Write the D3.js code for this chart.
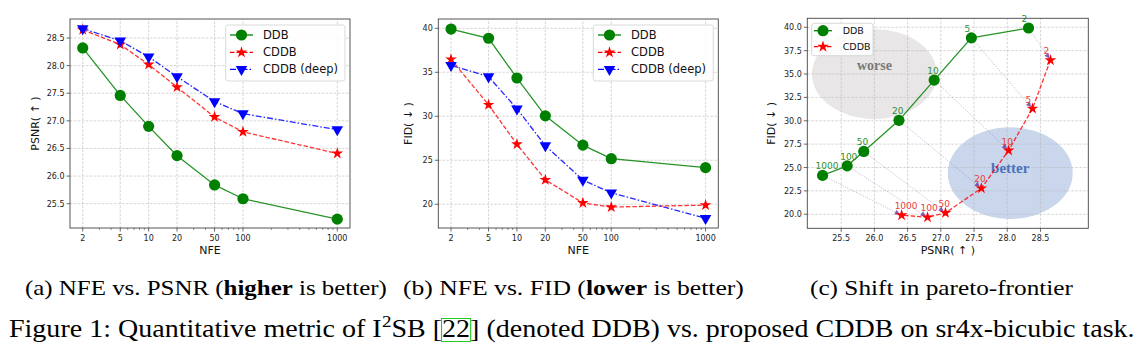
<!DOCTYPE html>
<html><head><meta charset="utf-8">
<script src="https://cdn.jsdelivr.net/npm/d3@7"></script>
<style>
html,body{margin:0;padding:0;background:#fff;}
svg{display:block;}
</style></head>
<body>
<svg id="c" width="1142" height="355"></svg>
<script>
// ---------------- DATA ----------------
const nfe = [2, 5, 10, 20, 50, 100, 1000];
const psnrDDB  = [28.32, 27.46, 26.90, 26.37, 25.84, 25.59, 25.22];
const psnrCDDB = [28.65, 28.38, 28.02, 27.61, 27.07, 26.80, 26.41];
const psnrDeep = [28.67, 28.45, 28.16, 27.80, 27.35, 27.13, 26.84];
const fidDDB   = [39.92, 38.87, 34.35, 30.05, 26.72, 25.18, 24.16];
const fidCDDB  = [36.48, 31.30, 26.82, 22.78, 20.15, 19.68, 19.90];
const fidDeep  = [35.80, 34.50, 30.86, 26.66, 22.76, 21.30, 18.41];
const yTicksA = [25.5, 26.0, 26.5, 27.0, 27.5, 28.0, 28.5];
const yTicksB = [20, 25, 30, 35, 40];
const xTicksC = [25.5, 26.0, 26.5, 27.0, 27.5, 28.0, 28.5];
const yTicksC = [20.0, 22.5, 25.0, 27.5, 30.0, 32.5, 35.0, 37.5, 40.0];
const seriesNames = ["DDB", "CDDB", "CDDB (deep)"];
// annotation ellipses in panel c (data coords: cx, cy, half-width, half-height)
const ellipseWorse  = [26.0, 35.0, 0.94, 4.8];
const ellipseBetter = [28.045, 24.4, 0.94, 4.9];

// ---------------- STYLE ----------------
const svg = d3.select("#c");
const FONT = "'DejaVu Sans', sans-serif";
const colG = "#008000", colR = "#ff0000", colB = "#0000ff";
const styles = [
  {color: colG, dash: null,          sym: "circle"},
  {color: colR, dash: "4.5,2",       sym: "star"},
  {color: colB, dash: "6,2,1.5,2",   sym: "tri"}
];
function marker(g, type, x, y, color) {
  if (type === "circle") {
    g.append("circle").attr("cx", x).attr("cy", y).attr("r", 5.6).attr("fill", color);
  } else if (type === "star") {
    g.append("path").attr("d", d3.symbol(d3.symbolStar, 42)())
      .attr("transform", `translate(${x},${y})`).attr("fill", color);
  } else {
    g.append("path").attr("d", d3.symbol(d3.symbolTriangle, 58)())
      .attr("transform", `translate(${x},${y}) rotate(180)`).attr("fill", color);
  }
}

function frameAxes(g, x, y, xTicks, yTicks) {
  const [x0, x1] = x.range(), [y0, y1] = y.range();
  const grid = g.append("g").attr("stroke", "#b8b8b8").attr("stroke-width", 0.6)
    .attr("stroke-dasharray", "2.5,1.5");
  xTicks.forEach(t => grid.append("line").attr("x1", x(t)).attr("x2", x(t)).attr("y1", y0).attr("y2", y1));
  yTicks.forEach(t => grid.append("line").attr("y1", y(t)).attr("y2", y(t)).attr("x1", x0).attr("x2", x1));
}
function drawAxes(g, x, y, xTicks, yTicks, xFmt, yFmt, minor) {
  const [x0, x1] = x.range(), [y0, y1] = y.range();
  g.append("rect").attr("x", x0).attr("y", y1).attr("width", x1 - x0).attr("height", y0 - y1)
    .attr("fill", "none").attr("stroke", "#444").attr("stroke-width", 0.9);
  const tk = g.append("g").attr("stroke", "#444").attr("stroke-width", 0.8);
  xTicks.forEach(t => tk.append("line").attr("x1", x(t)).attr("x2", x(t)).attr("y1", y0).attr("y2", y0 + 3.5));
  yTicks.forEach(t => tk.append("line").attr("y1", y(t)).attr("y2", y(t)).attr("x1", x0).attr("x2", x0 - 3.5));
  (minor || []).forEach(t => tk.append("line").attr("x1", x(t)).attr("x2", x(t)).attr("y1", y0).attr("y2", y0 + 2).attr("stroke-width", 0.6));
  const lab = g.append("g").attr("font-family", FONT).attr("font-size", 8).attr("fill", "#222");
  xTicks.forEach(t => lab.append("text").attr("x", x(t)).attr("y", y0 + 12.5).attr("text-anchor", "middle").text(xFmt(t)));
  yTicks.forEach(t => lab.append("text").attr("x", x0 - 5.5).attr("y", y(t) + 3).attr("text-anchor", "end").text(yFmt(t)));
}
function axisLabels(g, x, y, xl, yl, ylx) {
  const [x0, x1] = x.range(), [y0, y1] = y.range();
  g.append("text").attr("x", (x0 + x1) / 2).attr("y", 253.5).attr("text-anchor", "middle")
    .attr("font-family", FONT).attr("font-size", 11).attr("fill", "#111").text(xl);
  g.append("text").attr("transform", `translate(${ylx},${(y0 + y1) / 2}) rotate(-90)`)
    .attr("text-anchor", "middle").attr("font-family", FONT).attr("font-size", 11).attr("fill", "#111").text(yl);
}
function legend(g, bx, by, bw, bh, entries, lx0, lx1, tx, ys, fs) {
  g.append("rect").attr("x", bx).attr("y", by).attr("width", bw).attr("height", bh).attr("rx", 2.5)
    .attr("fill", "#fff").attr("fill-opacity", 0.85).attr("stroke", "#cfcfcf").attr("stroke-width", 0.8);
  entries.forEach((e, i) => {
    const st = styles[e];
    g.append("line").attr("x1", lx0).attr("x2", lx1).attr("y1", ys[i]).attr("y2", ys[i])
      .attr("stroke", st.color).attr("stroke-width", 1.3).attr("stroke-dasharray", st.dash);
    marker(g, st.sym, (lx0 + lx1) / 2, ys[i], st.color);
    g.append("text").attr("x", tx).attr("y", ys[i] + fs * 0.36).attr("font-family", FONT)
      .attr("font-size", fs).attr("fill", "#111").text(seriesNames[e]);
  });
}
function series(g, x, y, xs, ys, idx, alpha) {
  const st = styles[idx];
  const pts = xs.map((v, i) => [x(v), y(ys[i])]);
  g.append("path").attr("d", d3.line()(pts)).attr("fill", "none").attr("stroke", st.color)
    .attr("stroke-width", 1.3).attr("stroke-opacity", alpha).attr("stroke-dasharray", st.dash);
  pts.forEach(p => marker(g, st.sym, p[0], p[1], st.color));
}

// ---------------- PANEL A ----------------
const pad = Math.pow(10, 0.135);
const xA = d3.scaleLog().domain([2 / pad, 1000 * pad]).range([70, 350]);
const yA = d3.scaleLinear().domain([25.06, 28.844]).range([228, 19]);
const minorA = xA.ticks().filter(t => !nfe.includes(t) && t > 2);
const gA = svg.append("g");
frameAxes(gA, xA, yA, nfe, yTicksA);
series(gA, xA, yA, nfe, psnrDDB, 0, 0.85);
series(gA, xA, yA, nfe, psnrCDDB, 1, 0.8);
series(gA, xA, yA, nfe, psnrDeep, 2, 0.85);
drawAxes(gA, xA, yA, nfe, yTicksA, d3.format("d"), d3.format(".1f"), minorA);
axisLabels(gA, xA, yA, "NFE", "PSNR( \u2191 )", 39);
legend(gA, 225.7, 25, 119.3, 56, [0, 1, 2], 230, 253, 263, [35, 52.3, 69.3], 11.5);

// ---------------- PANEL B ----------------
const xB = d3.scaleLog().domain([2 / pad, 1000 * pad]).range([438.3, 718.3]);
const yB = d3.scaleLinear().domain([17.3, 41.06]).range([228, 19]);
const gB = svg.append("g");
frameAxes(gB, xB, yB, nfe, yTicksB);
series(gB, xB, yB, nfe, fidDDB, 0, 0.85);
series(gB, xB, yB, nfe, fidCDDB, 1, 0.8);
series(gB, xB, yB, nfe, fidDeep, 2, 0.85);
drawAxes(gB, xB, yB, nfe, yTicksB, d3.format("d"), d3.format("d"), minorA);
axisLabels(gB, xB, yB, "NFE", "FID( \u2193 )", 411.7);
legend(gB, 593.3, 25, 120, 56, [0, 1, 2], 598, 621, 631, [35, 52.3, 69.3], 11.5);

// ---------------- PANEL C ----------------
const xC = d3.scaleLinear().domain([24.99, 29.22]).range([807.3, 1088.3]);
const yC = d3.scaleLinear().domain([18.5, 40.96]).range([228.3, 18.3]);
const gC = svg.append("g");
function ell(e, fill) {
  gC.append("ellipse").attr("cx", xC(e[0])).attr("cy", yC(e[1]))
    .attr("rx", xC(e[0] + e[2]) - xC(e[0])).attr("ry", yC(e[1]) - yC(e[1] + e[3])).attr("fill", fill);
}
ell(ellipseWorse, "#e8e6e6");
ell(ellipseBetter, "#c9d6ec");
frameAxes(gC, xC, yC, xTicksC, yTicksC);
gC.append("text").attr("x", xC(ellipseWorse[0])).attr("y", yC(ellipseWorse[1]) - 4)
  .attr("text-anchor", "middle").attr("font-family", "'Liberation Serif', serif").attr("font-weight", "bold")
  .attr("font-size", 14).attr("fill", "#7a7a7a").text("worse");
gC.append("text").attr("x", xC(ellipseBetter[0])).attr("y", yC(ellipseBetter[1]) + 0)
  .attr("text-anchor", "middle").attr("font-family", "'Liberation Serif', serif").attr("font-weight", "bold")
  .attr("font-size", 15).attr("fill", "#4e72b8").text("better");
// dotted arrows DDB -> CDDB
const arr = gC.append("g");
nfe.forEach((n, i) => {
  const ax = xC(psnrDDB[i]), ay = yC(fidDDB[i]);
  const bx = xC(psnrCDDB[i]), by = yC(fidCDDB[i]);
  const dx = bx - ax, dy = by - ay, L = Math.hypot(dx, dy), ux = dx / L, uy = dy / L;
  const ex = bx - ux * 2, ey = by - uy * 2;
  arr.append("line").attr("x1", ax).attr("y1", ay).attr("x2", ex - ux * 4).attr("y2", ey - uy * 4)
    .attr("stroke", "#7d6fa8").attr("stroke-opacity", 0.75).attr("stroke-width", 0.7).attr("stroke-dasharray", "1,1.5");
  const hx = ex - ux * 5, hy = ey - uy * 5, px = -uy * 2.6, py = ux * 2.6;
  arr.append("path").attr("d", `M${ex},${ey}L${hx + px},${hy + py}L${hx - px},${hy - py}Z`)
    .attr("fill", "#6a3fa6").attr("fill-opacity", 0.85);
});
series(gC, xC, yC, psnrDDB, fidDDB, 0, 0.85);
series(gC, xC, yC, psnrCDDB, fidCDDB, 1, 0.8);
const ann = gC.append("g").attr("font-family", FONT).attr("font-size", 9);
nfe.forEach((n, i) => {
  ann.append("text").attr("x", xC(psnrDDB[i]) - 7).attr("y", yC(fidDDB[i]) - 6).attr("fill", "#2f8f2f").text(n);
  ann.append("text").attr("x", xC(psnrCDDB[i]) - 7).attr("y", yC(fidCDDB[i]) - 6).attr("fill", "#e8403c").text(n);
});
drawAxes(gC, xC, yC, xTicksC, yTicksC, d3.format(".1f"), d3.format(".1f"));
axisLabels(gC, xC, yC, "PSNR( \u2191 )", "FID( \u2193 )", 774.5);
legend(gC, 811.7, 23.3, 61.3, 32.4, [0, 1], 814, 832, 842.7, [30.7, 46.7], 9.5);

// ---------------- CAPTIONS ----------------
const SERIF = "'Liberation Serif', 'Times New Roman', serif";
function caption(parts, x0, x1, base, fs) {
  const g = svg.append("g");
  const t = g.append("text").attr("x", 0).attr("y", 0).attr("font-family", SERIF).attr("font-size", fs).attr("fill", "#000");
  parts.forEach(p => t.append("tspan").attr("font-weight", p[1] ? "bold" : "normal").text(p[0]));
  const w = t.node().getComputedTextLength();
  g.attr("transform", `translate(${x0},${base}) scale(${(x1 - x0) / w},1)`);
}
caption([["(a) NFE vs. PSNR ("], ["higher", 1], [" is better)"]], 25, 387, 295, 21);
caption([["(b) NFE vs. FID ("], ["lower", 1], [" is better)"]], 403, 744, 295, 21);
caption([["(c) Shift in pareto-frontier"]], 810, 1073, 295, 21);

// line 2 with superscript and boxed citation
(function () {
  const fs = 25.5;
  const g = svg.append("g");
  let cx = 0;
  function piece(txt, size, dy) {
    const t = g.append("text").attr("x", cx).attr("y", dy || 0).attr("font-family", SERIF)
      .attr("font-size", size).attr("fill", "#000").text(txt);
    const w = t.node().getComputedTextLength();
    const start = cx; cx += w; return [start, w];
  }
  piece("Figure 1: Quantitative metric of I", fs);
  piece("2", fs * 0.68, -10);
  piece("SB [", fs);
  const box = piece("22", fs);
  piece("] (denoted DDB) vs. proposed CDDB on sr4x-bicubic task.", fs);
  g.append("rect").attr("x", box[0] - 0.5).attr("y", -18.5).attr("width", box[1] + 1).attr("height", 23)
    .attr("fill", "none").attr("stroke", "#22cc22").attr("stroke-width", 1);
  g.attr("transform", `translate(9,337) scale(${(1135 - 9) / cx},1)`);
})();
</script>
</body></html>
